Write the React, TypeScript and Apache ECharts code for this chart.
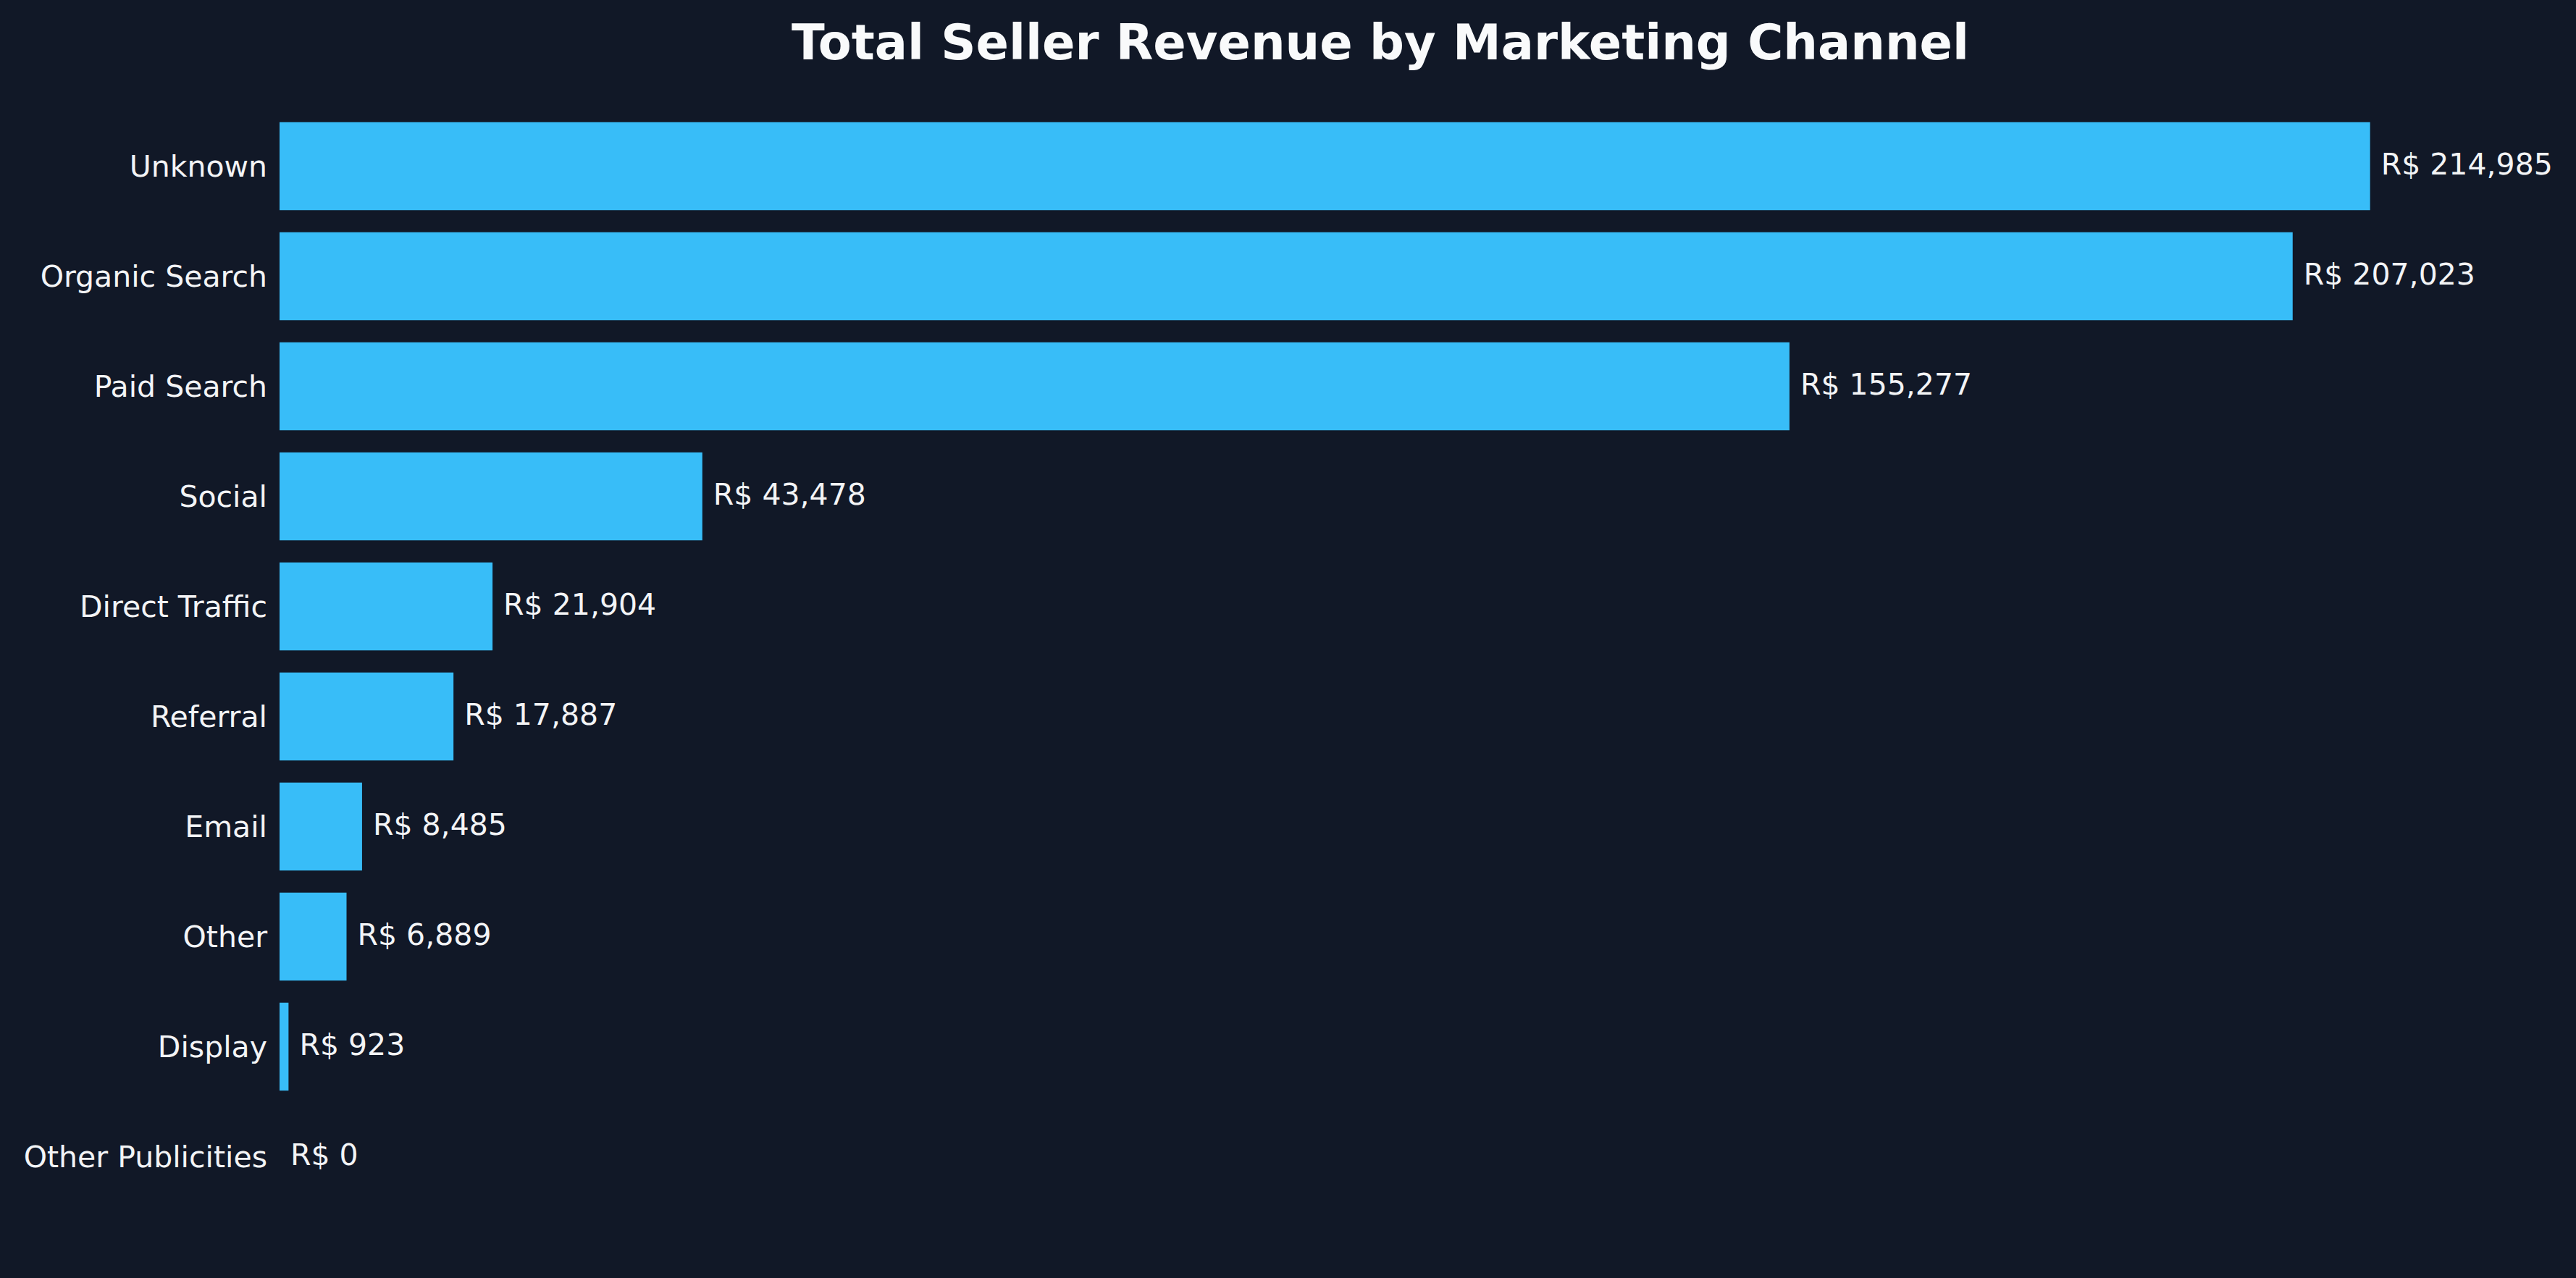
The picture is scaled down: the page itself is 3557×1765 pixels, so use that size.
import React, { useEffect, useRef } from "react";
import * as echarts from "echarts";

const categories = [
  "Unknown",
  "Organic Search",
  "Paid Search",
  "Social",
  "Direct Traffic",
  "Referral",
  "Email",
  "Other",
  "Display",
  "Other Publicities",
];
const revenue = [214985, 207023, 155277, 43478, 21904, 17887, 8485, 6889, 923, 0];
const xMax = 225734;

const BG = "#111827";
const BAR = "#38bdf8";
const TEXT = "#f3f4f6";
const FONT = "DejaVu Sans";

export default function App() {
  const ref = useRef<HTMLDivElement>(null);
  useEffect(() => {
    if (!ref.current) return;
    const chart = echarts.init(ref.current, null, { renderer: "svg" });
    chart.setOption({
      animation: false,
      backgroundColor: BG,
      title: {
        text: "Total Seller Revenue by Marketing Channel",
        left: 1901,
        textAlign: "center",
        top: 20,
        textStyle: {
          color: "#f9fafb",
          fontFamily: FONT,
          fontWeight: "bold",
          fontSize: 67,
        },
      },
      grid: { left: 386, right: 140, top: 153.5, bottom: 91.5, containLabel: false },
      xAxis: {
        type: "value",
        min: 0,
        max: xMax,
        show: false,
        splitLine: { show: false },
      },
      yAxis: {
        type: "category",
        data: categories,
        inverse: true,
        axisLine: { show: false },
        axisTick: { show: false },
        axisLabel: {
          color: TEXT,
          fontFamily: FONT,
          fontSize: 41,
          margin: 17,
          padding: [4, 0, 0, 0],
        },
      },
      series: [
        {
          type: "bar",
          data: revenue,
          barWidth: 121.6,
          itemStyle: { color: BAR },
          label: {
            show: true,
            position: "right",
            distance: 15,
            offset: [0, -3],
            color: TEXT,
            fontFamily: FONT,
            fontSize: 41,
            formatter: (p: any) => "R$ " + Number(p.value).toLocaleString("en-US"),
          },
        },
      ],
    });
    return () => chart.dispose();
  }, []);
  return (
    <div
      ref={ref}
      style={{ position: "absolute", left: 0, top: 0, width: 3557, height: 1765 }}
    />
  );
}
